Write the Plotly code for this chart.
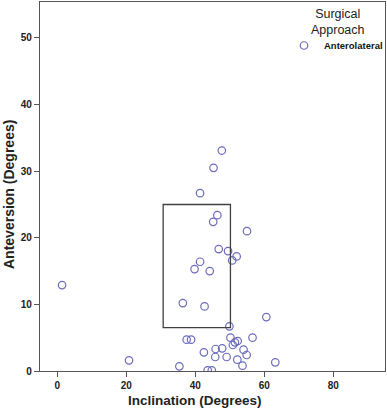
import plotly.graph_objects as go

inclination = [47.7, 45.3, 41.4, 46.4, 45.2, 55.0, 46.8, 49.5, 52.0, 50.7, 41.4, 39.8, 44.2,
               36.4, 42.7, 60.6, 49.9, 37.5, 38.8, 50.2, 56.6, 52.3, 51.5, 50.9, 42.5, 45.9,
               47.8, 54.0, 54.9, 45.8, 49.1, 52.2, 20.8, 63.2, 35.4, 53.7, 43.6, 44.8, 1.4]
anteversion = [33.1, 30.5, 26.7, 23.4, 22.4, 21.0, 18.3, 18.0, 17.2, 16.6, 16.4, 15.3, 15.0,
               10.2, 9.7, 8.1, 6.7, 4.7, 4.7, 5.0, 5.0, 4.5, 4.3, 3.9, 2.8, 3.3,
               3.4, 3.2, 2.4, 2.1, 2.1, 1.7, 1.6, 1.3, 0.7, 0.8, 0.1, 0.1, 12.9]
safe_zone_x = [30.7, 50.2]
safe_zone_y = [6.5, 25.0]
x_ticks = [0, 20, 40, 60, 80]
y_ticks = [0, 10, 20, 30, 40, 50]

FONT = "Arial, Liberation Sans, sans-serif"
W, H = 387, 409
ML, MR, MT, MB = 40, 2, 2, 38
PW, PH = W - ML - MR, H - MT - MB


def px_x(p):
    return (p - ML) / PW


def px_y(p):
    return 1 - (p - MT) / PH


fig = go.Figure()
fig.add_trace(go.Scatter(
    x=inclination, y=anteversion, mode="markers", name="<b>Anterolateral</b>",
    marker=dict(symbol="circle-open", size=7.5, color="#6b6bbd", line=dict(width=1.2, color="#6b6bbd")),
))
fig.add_shape(type="rect", x0=safe_zone_x[0], x1=safe_zone_x[1], y0=safe_zone_y[0], y1=safe_zone_y[1],
              xref="x", yref="y", line=dict(color="#404040", width=1.3), fillcolor="rgba(0,0,0,0)")

fig.add_annotation(xref="paper", yref="paper", x=px_x(338), y=px_y(22),
                   text="Surgical<br>Approach", showarrow=False, xanchor="center", yanchor="middle",
                   align="center", font=dict(size=12.5, family=FONT, color="#222"))
fig.add_annotation(xref="paper", yref="paper", x=px_x(195), y=px_y(400),
                   text="<b>Inclination (Degrees)</b>", showarrow=False,
                   xanchor="center", yanchor="middle", font=dict(size=13.5, family=FONT, color="#222"))
fig.add_annotation(xref="paper", yref="paper", x=px_x(9), y=px_y(195),
                   text="<b>Anteversion (Degrees)</b>", showarrow=False, textangle=-90,
                   xanchor="center", yanchor="middle", font=dict(size=14, family=FONT, color="#222"))

fig.update_layout(
    width=W, height=H,
    margin=dict(l=ML, r=MR, t=MT, b=MB, autoexpand=False),
    paper_bgcolor="white", plot_bgcolor="white",
    font=dict(family=FONT, color="#222222"),
    showlegend=True,
    legend=dict(
        x=px_x(284), y=px_y(31), xanchor="left", yanchor="top",
        bgcolor="rgba(0,0,0,0)", borderwidth=0,
        font=dict(size=9.5, family=FONT, color="#111"),
        itemwidth=30,
    ),
    xaxis=dict(
        range=[-5, 95], tickvals=x_ticks, ticktext=[f"<b>{v}</b>" for v in x_ticks],
        showgrid=False, zeroline=False, showline=True, linecolor="#555555", linewidth=1.3, mirror=True,
        ticks="outside", ticklen=5, tickcolor="#555555", automargin=False,
        tickfont=dict(size=10, family=FONT, color="#222"),
    ),
    yaxis=dict(
        range=[0, 55.4], tickvals=y_ticks, ticktext=[f"<b>{v}</b>" for v in y_ticks],
        showgrid=False, zeroline=False, showline=True, linecolor="#555555", linewidth=1.3, mirror=True,
        ticks="outside", ticklen=5, tickcolor="#555555", automargin=False,
        tickfont=dict(size=10, family=FONT, color="#222"),
    ),
)

fig.write_html("out.html", config={"displayModeBar": False},
               post_script="document.body.style.margin='0';document.body.style.overflow='hidden';")
